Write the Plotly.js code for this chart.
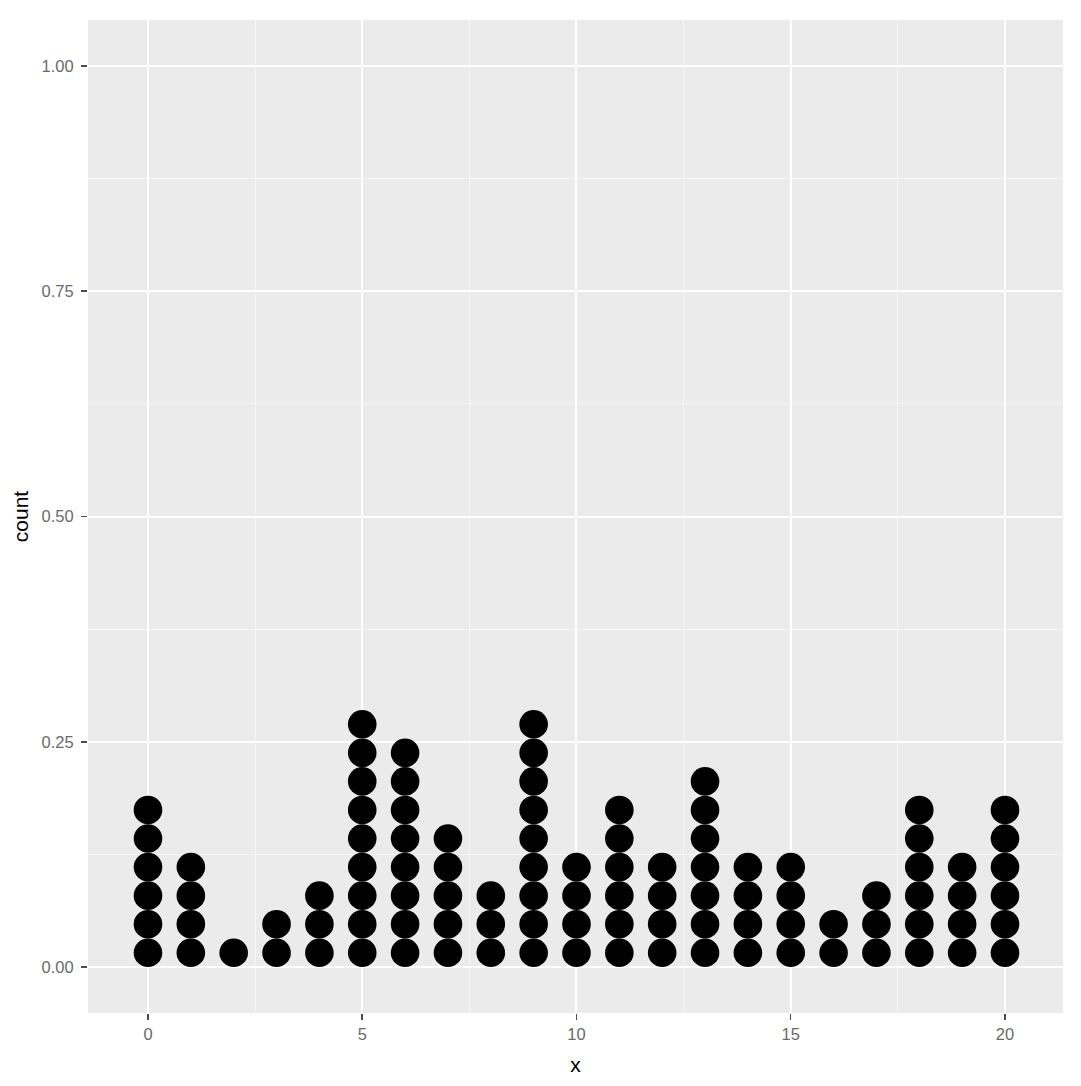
<!DOCTYPE html>
<html><head><meta charset="utf-8">
<script src="https://cdn.plot.ly/plotly-3.0.1.min.js"></script>
<style>body{margin:0;padding:0;background:#fff}#chart{width:1081px;height:1086px}</style>
</head><body><div id="chart"></div>
<script>
var xValues = [0,1,2,3,4,5,6,7,8,9,10,11,12,13,14,15,16,17,18,19,20];
var counts  = [6,4,1,2,3,9,8,5,3,9,4,6,4,7,4,4,2,3,6,4,6];
var stackStep = 0.0317; // dot diameter in y-axis units

var xs = [], ys = [];
for (var i = 0; i < xValues.length; i++) {
  for (var k = 0; k < counts[i]; k++) {
    xs.push(xValues[i]);
    ys.push((k + 0.5) * stackStep);
  }
}

var trace = {
  x: xs, y: ys, type: 'scatter', mode: 'markers',
  marker: {color: '#000000', size: 28.6, line: {width: 0}},
  hoverinfo: 'skip'
};

var axisCommon = {
  showline: false, zeroline: false, automargin: false,
  gridcolor: '#ffffff', gridwidth: 2,
  ticks: 'outside', ticklen: 6, tickwidth: 1.5, tickcolor: '#4d4d4d',
  tickfont: {family: 'Liberation Sans, Arial, sans-serif', size: 16.5, color: '#6a6a6a'}
};

var layout = {
  width: 1081, height: 1086,
  margin: {l: 88, r: 18, t: 20, b: 73},
  paper_bgcolor: '#ffffff', plot_bgcolor: '#ebebeb',
  showlegend: false,
  xaxis: Object.assign({}, axisCommon, {
    range: [-1.40, 21.354], tickvals: [0,5,10,15,20], ticktext: ['0','5','10','15','20'],
    minor: {tickvals: [2.5,7.5,12.5,17.5], showgrid: true, gridcolor: '#f6f6f6', gridwidth: 1, ticks: ''},
    title: {text: 'x', font: {family: 'Liberation Sans, Arial, sans-serif', size: 21, color: '#000'}, standoff: 15}
  }),
  yaxis: Object.assign({}, axisCommon, {
    range: [-0.051, 1.051], tickvals: [0,0.25,0.5,0.75,1], ticktext: ['0.00','0.25','0.50','0.75','1.00'],
    ticklabelstandoff: 4,
    minor: {tickvals: [0.125,0.375,0.625,0.875], showgrid: true, gridcolor: '#f6f6f6', gridwidth: 1, ticks: ''},
    title: {text: 'count', font: {family: 'Liberation Sans, Arial, sans-serif', size: 21, color: '#000'}, standoff: 7}
  })
};

Plotly.newPlot('chart', [trace], layout, {displayModeBar: false, staticPlot: true});
</script></body></html>
